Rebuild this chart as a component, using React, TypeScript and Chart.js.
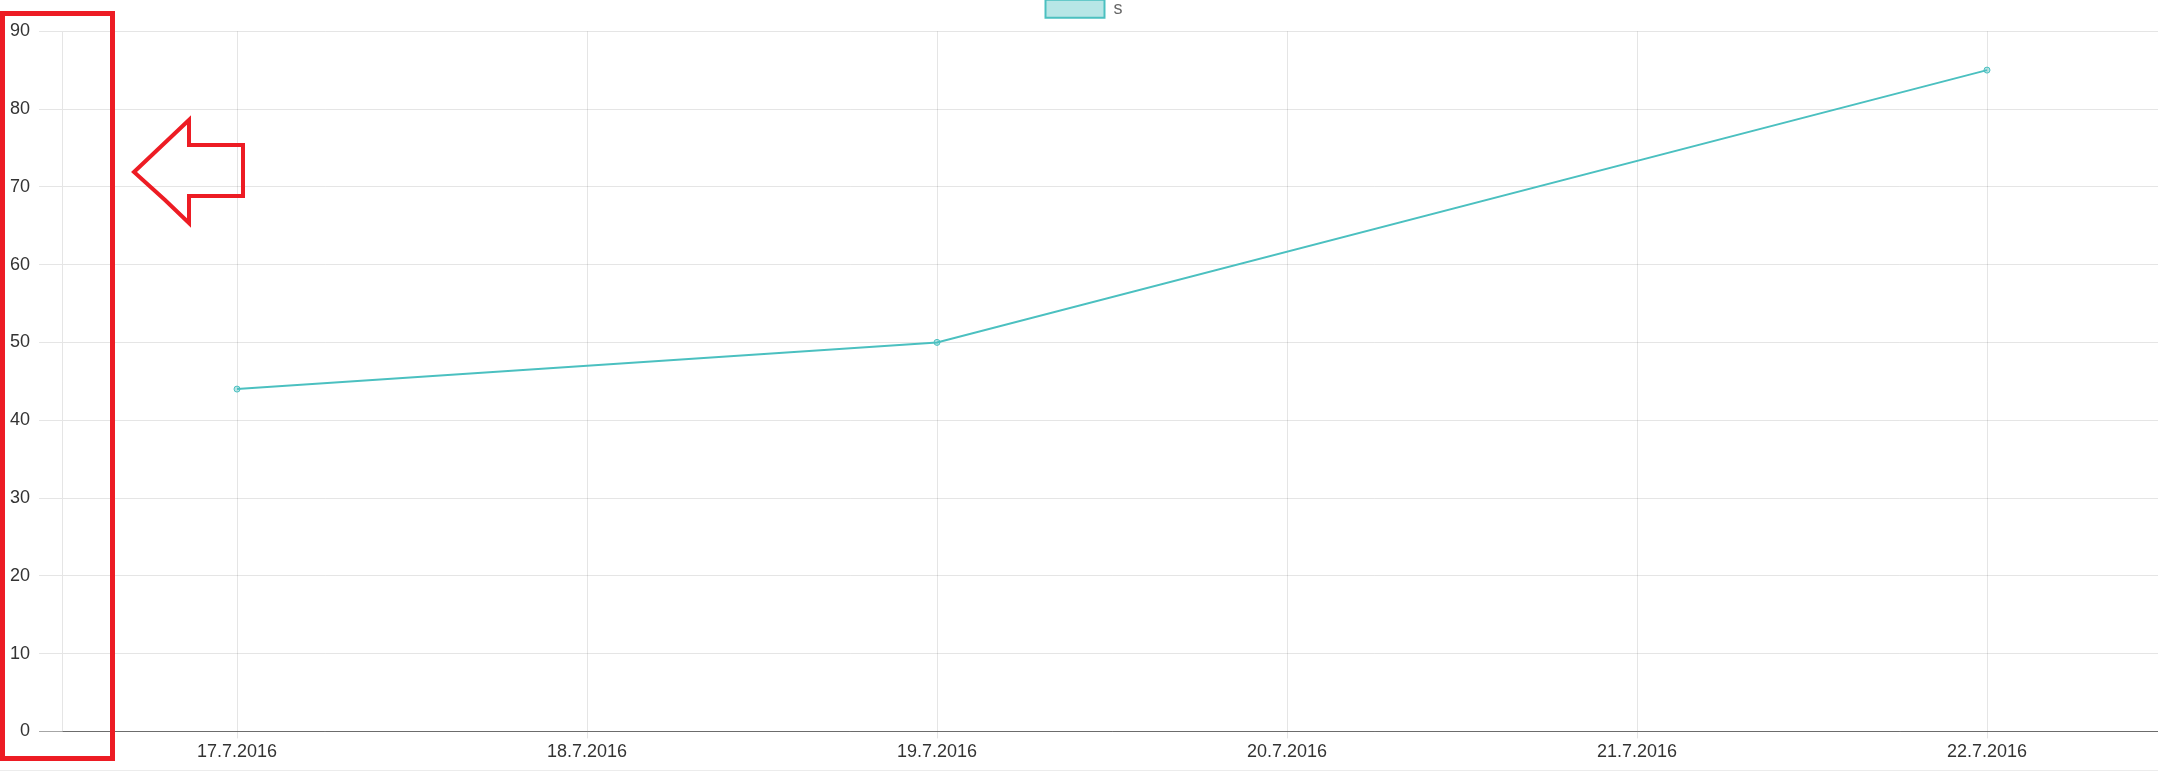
import { useEffect, useRef } from 'react';
import { Chart, registerables } from 'chart.js';
import type { Plugin } from 'chart.js';

Chart.register(...registerables);

const dates = ['17.7.2016', '18.7.2016', '19.7.2016', '20.7.2016', '21.7.2016', '22.7.2016'];
const sValues: (number | null)[] = [44, null, 50, null, null, 85];
const seriesName = 's';
const yMin = 0;
const yMax = 90;
const yStep = 10;

const teal = 'rgb(75,192,192)';
const tealFill = 'rgba(75,192,192,0.4)';
const gridColor = 'rgba(0,0,0,0.1)';
const zeroColor = 'rgba(0,0,0,0.35)';
const fontFamily = "'Liberation Sans', Arial, Helvetica, sans-serif";

// a bit more room under the legend, like the original
const legendGap: Plugin<'line'> = {
  id: 'legendGap',
  beforeInit(chart) {
    const legend = chart.legend as any;
    if (!legend) return;
    const fit = legend.fit;
    legend.fit = function () {
      fit.call(this);
      this.height += 3.5;
    };
  },
};

export default function App() {
  const ref = useRef<HTMLCanvasElement>(null);

  useEffect(() => {
    if (!ref.current) return;
    const chart = new Chart(ref.current, {
      type: 'line',
      data: {
        labels: dates,
        datasets: [{
          label:                seriesName,
          data:                 sValues,
          borderColor:          teal,
          backgroundColor:      tealFill,
          borderWidth:          2,
          pointRadius:          3,
          pointBorderWidth:     1,
          pointBorderColor:     teal,
          pointBackgroundColor: tealFill,
          tension:              0,
          spanGaps:             true,
          fill:                 false,
        }],
      },
      options: {
        responsive: false,
        animation:  false,
        devicePixelRatio: 1,
        layout: { padding: { left: 5, right: 0, top: 0, bottom: 0 } },
        plugins: {
          legend: {
            position: 'top',
            labels: {
              boxWidth:  59,
              boxHeight: 18,
              padding:   13.7,
              color:     '#666',
              font:      { size: 18, family: fontFamily },
            },
          },
          tooltip: { enabled: false },
        },
        scales: {
          x: {
            offset: true,
            grid:   { color: gridColor, tickLength: 7, offset: false },
            border: { color: zeroColor },
            ticks:  { color: '#333', padding: 3, maxRotation: 0, font: { size: 18, family: fontFamily } },
          },
          y: {
            min: yMin,
            max: yMax,
            grid: {
              tickLength: 23,
              color: (ctx) => (ctx.tick && ctx.tick.value === 0 ? zeroColor : gridColor),
            },
            border: { color: gridColor },
            ticks:  { stepSize: yStep, color: '#333', padding: 9, font: { size: 18, family: fontFamily } },
          },
        },
      },
      plugins: [legendGap],
    });
    return () => chart.destroy();
  }, []);

  return (
    <div style={{ position: 'fixed', left: 0, top: 0, width: '100vw', height: '100vh', overflow: 'hidden', background: '#fff' }}>
      <canvas ref={ref} width={2171} height={780} style={{ position: 'absolute', left: -4, top: -14.4, width: 2171, height: 780 }} />
      <div style={{ position: 'absolute', left: 0, right: 0, top: 770, height: 1, background: '#ececec' }} />
      <svg width={300} height={781} style={{ position: 'absolute', left: 0, top: 0 }}>
        <rect x={2.5} y={13.5} width={110} height={745} fill="none" stroke="#ed1c24" strokeWidth={5} />
        <path
          d="M134 172 L189 120 L189 145 L243 145 L243 196 L189 196 L189 223 L165 200 Z"
          fill="none"
          stroke="#ed1c24"
          strokeWidth={4}
          strokeLinejoin="miter"
        />
      </svg>
    </div>
  );
}
